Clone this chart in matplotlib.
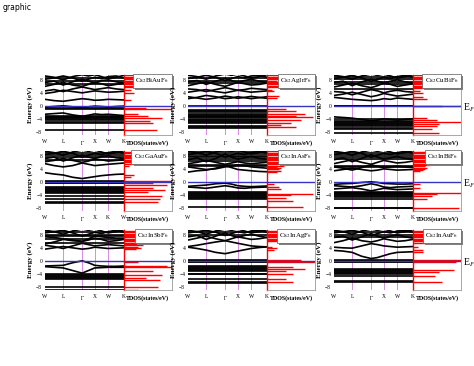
import numpy as np
import matplotlib
matplotlib.use('Agg')
import matplotlib.pyplot as plt
import matplotlib.patheffects as pe

plt.rcParams['font.family'] = 'Liberation Serif'
plt.rcParams['mathtext.fontset'] = 'stix'

names = [r'Cs$_2$BiAuF$_6$', r'Cs$_2$AgIrF$_6$', r'Cs$_2$CuBiF$_6$',
         r'Cs$_2$GaAuF$_6$', r'Cs$_2$InAsF$_6$', r'Cs$_2$InBiF$_6$',
         r'Cs$_2$InSbF$_6$', r'Cs$_2$InAgF$_6$', r'Cs$_2$InAuF$_6$']
kpath = ['W', 'L', r'$\Gamma$', 'X', 'W', 'K']
kpath_ga = ['W', 'L', r'$\Gamma$', 'X', 'K', 'W']
kfrac = [0, 0.23, 0.47, 0.63, 0.80, 1.0]

# bands: energies (eV) at W, mid, L, mid, G, mid, X, mid, W, mid, K
bands_1 = [[2.0, 1.6, 1.4, 1.8, 2.2, 2.0, 1.7, 1.8, 2.0, 1.9, 1.8],
           [3.8, 4.2, 4.8, 4.4, 4.0, 4.3, 4.6, 4.4, 4.2, 4.3, 4.5],
           [4.6, 5.0, 4.4, 5.2, 5.8, 5.4, 5.0, 5.3, 5.6, 5.2, 5.0],
           [6.0, 6.6, 7.2, 6.4, 6.0, 6.6, 7.2, 6.8, 6.2, 6.6, 7.0],
           [7.2, 7.6, 6.4, 7.4, 8.2, 7.6, 7.0, 7.8, 8.0, 7.4, 7.0],
           [8.2, 8.6, 9.2, 8.6, 7.6, 8.2, 8.8, 8.4, 9.0, 9.2, 8.6],
           [9.2, 8.8, 8.0, 9.0, 9.6, 9.2, 9.6, 9.0, 8.4, 8.8, 9.4],
           [-0.4, -0.2, 0.0, -0.3, -0.6, -0.3, -0.1, -0.2, -0.4, -0.2, -0.1],
           [-2.6, -2.4, -2.2, -2.8, -3.2, -2.9, -2.5, -2.7, -2.6, -2.8, -3.0]]
flat_1 = [-0.8, -1.1, -3.0, -3.3, -3.6, -3.9, -4.2, -4.5, -4.9, -5.3, -7.6, 6.8, 7.8, 8.6]
dos_e_1 = [-7.6, -5.3, -4.6, -3.7, -3.0, -2.5, -1.1, -0.6, 1.8, 4.0, 5.0, 5.8, 6.2, 6.6,
           7.0, 7.4, 7.8, 8.2, 8.6, 9.0, 9.4]
dos_h_1 = [0.68, 0.6, 0.55, 0.8, 0.5, 0.3, 1.0, 0.45, 0.15, 0.2, 0.15, 0.3, 0.2, 0.35,
           0.25, 0.4, 0.2, 0.35, 0.25, 0.3, 0.3]

bands_2 = [[2.8, 2.4, 2.0, 2.4, 3.0, 2.7, 2.3, 2.6, 2.9, 2.6, 2.3],
           [2.2, 2.6, 3.2, 2.8, 2.2, 2.4, 2.8, 2.5, 2.2, 2.5, 2.8],
           [4.2, 4.6, 5.0, 4.4, 4.0, 4.4, 4.8, 4.5, 4.2, 4.4, 4.6],
           [5.2, 5.0, 4.4, 5.0, 5.6, 5.2, 4.8, 5.0, 5.4, 5.2, 5.0],
           [6.2, 6.8, 7.4, 6.6, 6.0, 6.6, 7.2, 6.8, 6.4, 6.6, 7.0],
           [7.4, 7.8, 6.6, 7.6, 8.4, 7.8, 7.2, 7.8, 8.2, 7.6, 7.2],
           [8.4, 8.8, 9.4, 8.8, 7.8, 8.4, 9.0, 8.6, 9.2, 9.4, 8.8],
           [9.4, 9.0, 8.2, 9.2, 9.8, 9.4, 9.8, 9.2, 8.6, 9.0, 9.6]]
flat_2 = [0.0, -1.2, -1.5, -1.8, -2.4, -2.7, -3.0, -3.3, -3.6, -4.0, -4.3, -4.6, -5.0,
          -5.4, -6.2, -6.5, -6.8, 6.9, 7.7, 8.6]
dos_e_2 = [-6.5, -6.0, -5.2, -4.5, -3.6, -3.0, -2.4, -1.5, -1.1, 2.3, 2.9, 4.5, 5.0, 5.8,
           6.2, 6.6, 7.0, 7.4, 7.8, 8.2, 8.6, 9.0, 9.4]
dos_h_2 = [0.6, 0.3, 0.5, 0.7, 0.95, 0.6, 0.8, 0.6, 0.4, 0.2, 0.25, 0.15, 0.1, 0.35,
           0.25, 0.4, 0.3, 0.45, 0.2, 0.35, 0.3, 0.4, 0.3]

bands_3 = [[2.6, 2.3, 2.0, 1.8, 1.6, 1.8, 2.2, 2.0, 2.4, 2.2, 2.0],
           [3.2, 3.6, 4.2, 3.5, 2.8, 3.2, 3.8, 3.4, 3.0, 3.3, 3.6],
           [4.4, 4.2, 3.4, 4.2, 5.0, 4.6, 4.0, 4.5, 4.8, 4.4, 4.2],
           [5.8, 6.4, 7.0, 6.2, 5.6, 6.2, 7.0, 6.6, 6.0, 6.4, 6.8],
           [7.2, 7.6, 6.2, 7.4, 8.2, 7.6, 7.0, 7.6, 8.0, 7.4, 7.0],
           [8.4, 8.8, 9.4, 8.6, 7.6, 8.2, 8.8, 8.4, 9.0, 9.4, 8.8],
           [9.4, 9.0, 8.2, 9.2, 9.8, 9.4, 9.8, 9.2, 8.6, 9.0, 9.6],
           [-3.4, -3.6, -3.8, -4.2, -4.6, -4.4, -4.0, -4.2, -4.4, -4.2, -4.0]]
flat_3 = [0.0, -0.1, -4.2, -4.8, -5.1, -5.4, -5.7, -6.0, -6.3, -6.8, -7.2, -8.3, 5.2, 6.6,
          7.4, 8.2, 8.8]
dos_e_3 = [-8.3, -7.0, -6.2, -5.5, -5.0, -4.3, -3.8, 0.0, -0.2, 2.0, 2.6, 3.8, 4.6, 5.4,
           5.8, 6.2, 6.6, 7.0, 7.4, 7.8, 8.2, 8.6, 9.0, 9.4]
dos_h_3 = [0.55, 0.4, 0.5, 0.55, 1.0, 0.5, 0.3, 1.0, 0.6, 0.3, 0.2, 0.2, 0.15, 0.35,
           0.5, 0.3, 0.55, 0.35, 0.45, 0.3, 0.5, 0.3, 0.4, 0.35]

bands_4 = [[2.8, 2.4, 2.1, 1.4, 1.0, 1.3, 1.6, 1.9, 2.1, 2.3, 2.4],
           [5.6, 5.0, 4.6, 5.0, 5.8, 5.4, 5.0, 5.2, 5.4, 5.6, 5.8],
           [6.2, 6.6, 7.2, 6.6, 6.0, 6.4, 7.0, 6.8, 6.4, 6.6, 6.8],
           [7.2, 7.6, 6.4, 7.4, 8.2, 7.6, 7.2, 7.8, 8.0, 7.4, 7.2],
           [8.4, 8.8, 9.4, 8.8, 7.6, 8.2, 8.8, 8.4, 9.0, 9.4, 8.8],
           [9.4, 9.0, 8.2, 9.2, 9.8, 9.4, 9.8, 9.2, 8.6, 9.0, 9.6]]
flat_4 = [0.2, 0.0, -0.3, -0.5, -1.6, -1.9, -2.2, -2.5, -2.8, -3.1, -3.4, -4.3, -5.2,
          -6.2, -6.4, 6.8, 7.6, 8.4, 9.0]
dos_e_4 = [-6.3, -5.3, -4.3, -3.0, -2.6, -2.0, -1.0, -0.4, 0.2, 1.6, 2.1, 4.8, 5.6, 6.0,
           6.4, 6.8, 7.2, 7.6, 8.0, 8.4, 8.8, 9.2]
dos_h_4 = [0.7, 0.75, 0.8, 0.5, 0.85, 0.6, 0.9, 0.6, 1.0, 0.15, 0.2, 0.1, 0.2, 0.3,
           0.35, 0.5, 0.4, 0.5, 0.45, 0.5, 0.4, 0.5]

bands_5 = [[-1.4, -1.2, -1.0, -0.6, -0.4, -0.7, -1.2, -1.4, -1.5, -1.4, -1.3],
           [-1.6, -1.8, -2.0, -1.6, -1.2, -1.5, -1.9, -2.0, -1.8, -1.7, -1.6],
           [3.0, 3.4, 3.6, 4.2, 5.0, 4.4, 3.8, 3.6, 3.4, 3.2, 3.1],
           [4.6, 4.2, 3.8, 4.0, 4.6, 4.8, 5.2, 5.0, 4.6, 4.4, 4.2],
           [5.6, 6.0, 6.6, 6.0, 5.4, 5.8, 6.2, 5.8, 5.6, 5.8, 6.0],
           [6.8, 7.4, 6.2, 7.2, 8.6, 7.6, 7.0, 7.4, 7.8, 7.2, 7.0],
           [8.4, 8.8, 9.4, 8.8, 7.6, 8.2, 8.8, 8.4, 9.0, 9.4, 8.8],
           [9.4, 9.0, 8.2, 9.2, 9.8, 9.4, 9.8, 9.2, 8.6, 9.0, 9.6]]
flat_5 = [-3.2, -3.5, -3.8, -4.1, -4.4, -4.7, -5.0, -5.4, -7.8, 4.8, 5.2, 6.5, 7.0, 7.6,
          8.0, 8.6, 9.2]
dos_e_5 = [-7.9, -5.8, -4.9, -4.2, -3.7, -2.1, -1.5, -0.6, 3.0, 3.4, 3.8, 4.2, 4.6, 5.0,
           5.4, 5.8, 6.2, 6.6, 7.0, 7.4, 7.8, 8.2, 8.6, 9.0, 9.4]
dos_h_5 = [0.75, 0.55, 0.4, 0.5, 0.95, 0.3, 0.25, 0.15, 0.2, 0.3, 0.25, 0.3, 0.2, 0.35,
           0.3, 0.25, 0.35, 0.3, 0.4, 0.3, 0.35, 0.3, 0.35, 0.3, 0.3]

bands_6 = [[-0.8, -0.6, -0.5, -0.2, 0.0, -0.2, -0.5, -0.6, -0.7, -0.7, -0.6],
           [-1.2, -1.4, -1.6, -1.2, -0.6, -1.0, -1.6, -1.8, -1.6, -1.5, -1.4],
           [-2.2, -2.0, -1.8, -2.2, -2.8, -2.4, -2.0, -2.2, -2.4, -2.3, -2.2],
           [3.4, 3.8, 4.2, 3.8, 3.4, 3.6, 4.0, 3.8, 3.6, 3.7, 3.8],
           [4.6, 4.2, 3.6, 4.4, 5.2, 4.8, 4.4, 4.6, 4.8, 4.6, 4.4],
           [5.6, 6.2, 6.8, 6.0, 5.4, 6.0, 6.6, 6.2, 5.8, 6.0, 6.4],
           [6.8, 7.4, 6.2, 7.2, 8.4, 7.6, 7.0, 7.4, 7.8, 7.2, 7.0],
           [8.4, 8.8, 9.4, 8.8, 7.6, 8.2, 8.8, 8.4, 9.0, 9.4, 8.8],
           [9.4, 9.0, 8.2, 9.2, 9.8, 9.4, 9.8, 9.2, 8.6, 9.0, 9.6]]
flat_6 = [-3.0, -3.3, -3.6, -3.9, -4.2, -4.5, -4.8, -5.2, -8.0, -8.1, 4.6, 5.0, 7.0, 7.8,
          8.4, 9.0]
dos_e_6 = [-8.0, -5.4, -4.4, -3.8, -3.4, -1.8, -0.7, 3.2, 3.6, 4.0, 4.4, 4.8, 5.2, 5.6,
           6.0, 6.4, 6.8, 7.2, 7.6, 8.0, 8.4, 8.8, 9.2]
dos_h_6 = [0.95, 0.3, 0.4, 0.5, 1.0, 0.15, 0.15, 0.15, 0.2, 0.25, 0.3, 0.25, 0.35, 0.3,
           0.35, 0.25, 0.4, 0.3, 0.35, 0.3, 0.4, 0.3, 0.35]

bands_7 = [[-1.6, -1.5, -1.4, -0.6, 0.0, -0.6, -1.4, -1.6, -1.7, -1.7, -1.6],
           [-1.8, -2.0, -2.2, -3.0, -3.8, -3.0, -2.2, -2.1, -2.0, -2.0, -2.0],
           [3.6, 4.0, 4.4, 4.0, 3.6, 3.8, 4.2, 4.0, 3.8, 3.9, 4.0],
           [4.8, 4.4, 3.8, 4.6, 5.4, 5.0, 4.6, 4.8, 5.0, 4.8, 4.6],
           [5.2, 5.8, 6.6, 6.2, 6.0, 6.4, 7.0, 6.6, 6.0, 6.2, 6.6],
           [7.4, 7.2, 6.8, 6.4, 6.0, 6.8, 7.6, 7.4, 7.2, 7.0, 7.0],
           [8.6, 9.0, 9.4, 8.6, 7.6, 8.2, 8.8, 8.4, 9.0, 9.4, 8.8],
           [9.4, 9.0, 8.2, 9.2, 9.8, 9.4, 9.8, 9.2, 8.6, 9.0, 9.6]]
flat_7 = [-4.0, -4.3, -4.6, -4.9, -5.2, -5.5, -8.0, -9.0, 5.6, 6.8, 7.6, 8.0, 8.8]
dos_e_7 = [-9.0, -8.0, -5.8, -5.2, -4.4, -3.0, -2.0, -1.5, -0.4, 3.6, 4.0, 4.4, 4.8, 5.2,
           5.6, 6.0, 6.4, 6.8, 7.2, 7.6, 8.0, 8.4, 8.8, 9.2]
dos_h_7 = [0.3, 0.7, 0.75, 0.45, 0.8, 0.6, 1.0, 0.9, 0.3, 0.25, 0.35, 0.3, 0.4, 0.35,
           0.45, 0.3, 0.4, 0.35, 0.45, 0.3, 0.4, 0.35, 0.4, 0.35]

bands_8 = [[4.2, 3.8, 3.3, 2.6, 2.2, 2.6, 3.0, 3.4, 3.8, 4.1, 4.3],
           [4.4, 4.8, 5.3, 5.8, 6.2, 5.8, 5.4, 5.0, 4.6, 4.4, 4.3],
           [6.4, 7.0, 7.6, 6.8, 6.2, 6.8, 7.4, 7.0, 6.6, 6.8, 7.2],
           [7.4, 7.8, 6.6, 7.6, 8.6, 7.8, 7.2, 7.8, 8.2, 7.6, 7.2],
           [8.6, 9.0, 9.4, 8.8, 7.8, 8.4, 9.0, 8.6, 9.2, 9.4, 8.8],
           [9.4, 9.0, 8.2, 9.2, 9.8, 9.4, 9.8, 9.2, 8.6, 9.0, 9.6]]
flat_8 = [0.1, -0.1, -0.3, -0.5, -1.6, -1.9, -2.2, -2.5, -2.8, -3.1, -4.0, -4.2, -5.6,
          -6.5, -6.7, 8.0, 8.8]
dos_e_8 = [-6.6, -5.6, -4.2, -3.2, -2.5, -1.8, -0.3, 0.1, 3.3, 3.8, 4.4, 6.0, 6.4, 6.8,
           7.2, 7.6, 8.0, 8.4, 8.8, 9.2]
dos_h_8 = [0.55, 0.4, 0.55, 0.4, 0.8, 0.55, 1.0, 0.7, 0.15, 0.2, 0.1, 0.3, 0.4, 0.3,
           0.45, 0.35, 0.4, 0.3, 0.45, 0.35]

bands_9 = [[3.2, 3.0, 2.6, 1.4, 0.7, 1.0, 1.6, 2.2, 2.6, 2.7, 2.8],
           [4.2, 4.0, 3.9, 4.6, 5.3, 5.0, 4.6, 4.4, 4.2, 4.3, 4.4],
           [5.6, 6.2, 7.0, 6.2, 5.8, 6.2, 6.8, 6.4, 6.0, 6.2, 6.6],
           [7.2, 7.6, 6.4, 7.4, 8.4, 7.6, 7.0, 7.6, 8.0, 7.4, 7.0],
           [8.6, 9.0, 9.4, 8.8, 7.8, 8.4, 9.0, 8.6, 9.2, 9.4, 8.8],
           [9.4, 9.0, 8.2, 9.2, 9.8, 9.4, 9.8, 9.2, 8.6, 9.0, 9.6]]
flat_9 = [0.1, -0.1, -0.3, -0.5, -2.6, -2.9, -3.2, -3.5, -3.8, -4.1, -4.7, -6.3, -6.6,
          7.2, 8.0, 8.8]
dos_e_9 = [-6.4, -4.6, -3.5, -2.9, -0.3, 0.1, 2.6, 3.4, 4.3, 5.6, 6.0, 6.4, 6.8, 7.2,
           7.6, 8.0, 8.4, 8.8, 9.2]
dos_h_9 = [0.6, 0.45, 0.55, 0.85, 0.9, 1.0, 0.2, 0.2, 0.1, 0.25, 0.35, 0.3, 0.4, 0.3,
           0.45, 0.35, 0.4, 0.3, 0.35]

all_bands = [bands_1, bands_2, bands_3, bands_4, bands_5, bands_6, bands_7, bands_8, bands_9]
all_flat = [flat_1, flat_2, flat_3, flat_4, flat_5, flat_6, flat_7, flat_8, flat_9]
all_dos_e = [dos_e_1, dos_e_2, dos_e_3, dos_e_4, dos_e_5, dos_e_6, dos_e_7, dos_e_8, dos_e_9]
all_dos_h = [dos_h_1, dos_h_2, dos_h_3, dos_h_4, dos_h_5, dos_h_6, dos_h_7, dos_h_8, dos_h_9]

W, H = 474, 366
fig = plt.figure(figsize=(W / 100, H / 100), dpi=100)
fig.text(3 / W, 1 - 3 / H, 'graphic', fontsize=5.5, family='DejaVu Sans', va='top')

col_x = [45, 188, 334]
row_y = [75, 151, 230]
bw, dw, ph = 79, 48, 60
ylo, yhi = -9, 9.5

# k positions of the sampled points (symmetry points and segment midpoints)
kx = []
for a, b in zip(kfrac[:-1], kfrac[1:]):
    kx += [a, (a + b) / 2]
kx.append(kfrac[-1])

pink = '#d98be8'
blue = '#3535c0'

for i in range(9):
    r, c = divmod(i, 3)
    x0, y0 = col_x[c], row_y[r]
    axb = fig.add_axes([x0 / W, 1 - (y0 + ph) / H, bw / W, ph / H])
    for k in kfrac[1:-1]:
        axb.axvline(k, color=pink, lw=0.7, zorder=0)
    for b in all_bands[i]:
        axb.plot(kx, b, color='k', lw=1.2)
    for e in all_flat[i]:
        axb.plot([0, 1], [e, e], color='k', lw=1.2)
    axb.axhline(0, color=blue, lw=1.0, zorder=5)
    axb.set_xlim(0, 1)
    axb.set_ylim(ylo, yhi)
    for s in axb.spines.values():
        s.set_visible(False)
    axb.set_xticks(kfrac)
    axb.set_xticklabels(kpath_ga if i == 3 else kpath, fontsize=4.5)
    axb.set_yticks([-8, -4, 0, 4, 8])
    axb.tick_params(length=0, labelsize=4, pad=2)
    axb.tick_params(axis='x', pad=3)
    axb.set_ylabel('Energy (eV)', fontsize=5, fontweight='bold', labelpad=2)

    axd = fig.add_axes([(x0 + bw) / W, 1 - (y0 + ph) / H, dw / W, ph / H])
    axd.hlines(all_dos_e[i], 0, all_dos_h[i], color='red', lw=1.0)
    axd.axhline(0, color=blue, lw=1.0, zorder=5)
    axd.set_xlim(0, 1)
    axd.set_ylim(ylo, yhi)
    axd.set_xticks([])
    axd.set_yticks([])
    for s in axd.spines.values():
        s.set_color('0.6')
        s.set_linewidth(0.6)
    axd.spines['left'].set_color('red')
    axd.spines['left'].set_linewidth(1.0)
    axd.spines['top'].set_visible(False)
    axd.set_xlabel('TDOS(states/eV)', fontsize=4.3, fontweight='bold', labelpad=4)

    t = axd.text(0.94, 0.98, names[i], transform=axd.transAxes, ha='right', va='top',
                 fontsize=5, zorder=9, clip_on=False,
                 bbox=dict(boxstyle='square,pad=0.35', fc='white', ec='0.35', lw=0.5))
    t.get_bbox_patch().set_path_effects(
        [pe.SimplePatchShadow(offset=(1.5, -1.5), shadow_rgbFace='0.5', alpha=1.0), pe.Normal()])

    if c == 2:
        zero_y = y0 + ph * yhi / (yhi - ylo)
        fig.text(463 / W, 1 - (zero_y + 2) / H, r'E$_F$', fontsize=7, va='center')

fig.savefig('out.png', dpi=100)
